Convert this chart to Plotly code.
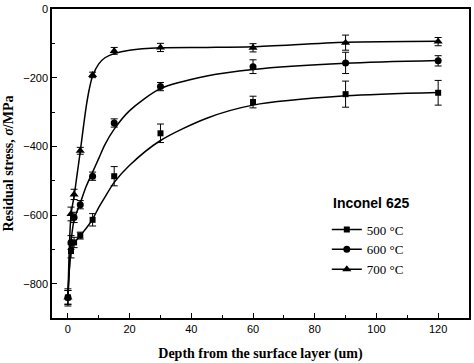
import plotly.graph_objects as go

depth = [0, 1, 2, 4, 8, 15, 30, 60, 90, 120]
s500 = [-840, -705, -680, -660, -614, -487, -362, -271, -248, -244]
s600 = [-840, -680, -607, -570, -487, -332, -226, -168, -157, -151]
s700 = [-840, -597, -540, -413, -192, -122, -112, -113, -98, -95]
e500 = [25, 20, 15, 10, 18, 28, 27, 17, 38, 36]
e600 = [20, 20, 15, 12, 12, 12, 12, 20, 31, 15]
e700 = [20, 20, 15, 10, 8, 10, 12, 12, 22, 12]

c500_x = [0, 1, 2, 4, 6, 8, 10, 12, 15, 20, 30, 45, 60, 90, 120]
c500_y = [-840, -710, -683, -660, -638, -612, -578, -548, -505, -455, -383, -318, -280, -253, -243]
c600_x = [0, 1, 2, 4, 6, 8, 10, 12, 15, 20, 30, 45, 60, 90, 120]
c600_y = [-840, -680, -615, -565, -515, -475, -435, -395, -350, -296, -232, -195, -176, -158, -150]
c700_x = [0, 1, 2, 3, 4, 5, 6, 7, 8, 10, 12, 15, 20, 30, 45, 60, 90, 120]
c700_y = [-840, -600, -545, -480, -415, -345, -280, -230, -195, -160, -142, -130, -120, -113, -112, -110, -97, -94]

series = [
    ("500 °C", s500, e500, c500_x, c500_y, "square", 6),
    ("600 °C", s600, e600, c600_x, c600_y, "circle", 7),
    ("700 °C", s700, e700, c700_x, c700_y, "triangle-up", 8),
]

fig = go.Figure()
for name, ys, es, cx, cy, sym, sz in series:
    fig.add_trace(go.Scatter(x=cx, y=cy, mode="lines", line=dict(color="black", width=1.5, shape="spline", smoothing=0.8),
                             showlegend=False, hoverinfo="skip"))
    fig.add_trace(go.Scatter(x=depth, y=ys, mode="markers",
                             marker=dict(symbol=sym, size=sz, color="black"),
                             error_y=dict(type="data", array=es, visible=True, color="black", thickness=1, width=3.5),
                             showlegend=False))
for name, ys, es, cx, cy, sym, sz in series:
    fig.add_trace(go.Scatter(x=[None], y=[None], mode="lines+markers", name=name,
                             line=dict(color="black", width=1.5),
                             marker=dict(symbol=sym, size=sz, color="black")))

axis_common = dict(showline=True, linecolor="black", linewidth=1.5, mirror=True,
                   ticks="inside", ticklen=5, tickwidth=1.2, tickcolor="black",
                   showgrid=False, zeroline=False,
                   tickfont=dict(family="Liberation Sans", size=11, color="black"))

fig.update_xaxes(range=[-5.16, 130], dtick=20, tick0=0,
                 minor=dict(ticks="inside", ticklen=3, dtick=10, tick0=0, tickcolor="black", tickwidth=1.2),
                 title=dict(text="<b>Depth from the surface layer (um)</b>",
                            font=dict(family="Liberation Serif", size=14, color="black"), standoff=14),
                 **axis_common)
fig.update_yaxes(range=[-900, 0], dtick=200, tick0=0,
                 minor=dict(ticks="inside", ticklen=3, dtick=100, tick0=0, tickcolor="black", tickwidth=1.2),
                 title=dict(text="<b>Residual stress, <i>σ</i>/MPa</b>",
                            font=dict(family="Liberation Serif", size=14, color="black"), standoff=6),
                 **axis_common)

fig.add_annotation(text="<b>Inconel 625</b>", xref="paper", yref="paper", x=0.670, y=0.372,
                   xanchor="left", yanchor="middle", showarrow=False,
                   font=dict(family="Liberation Sans", size=14, color="black"))

fig.update_layout(width=474, height=363, margin=dict(l=52, r=3, t=8, b=45),
                  paper_bgcolor="white", plot_bgcolor="white",
                  legend=dict(x=0.659, y=0.335, xanchor="left", yanchor="top", itemwidth=30,
                              bgcolor="rgba(0,0,0,0)", tracegroupgap=0,
                              font=dict(family="Liberation Serif", size=13, color="black")))

fig.write_html("out.html", config={"displayModeBar": False},
               post_script="document.body.style.margin='0';document.body.style.overflow='hidden';")
